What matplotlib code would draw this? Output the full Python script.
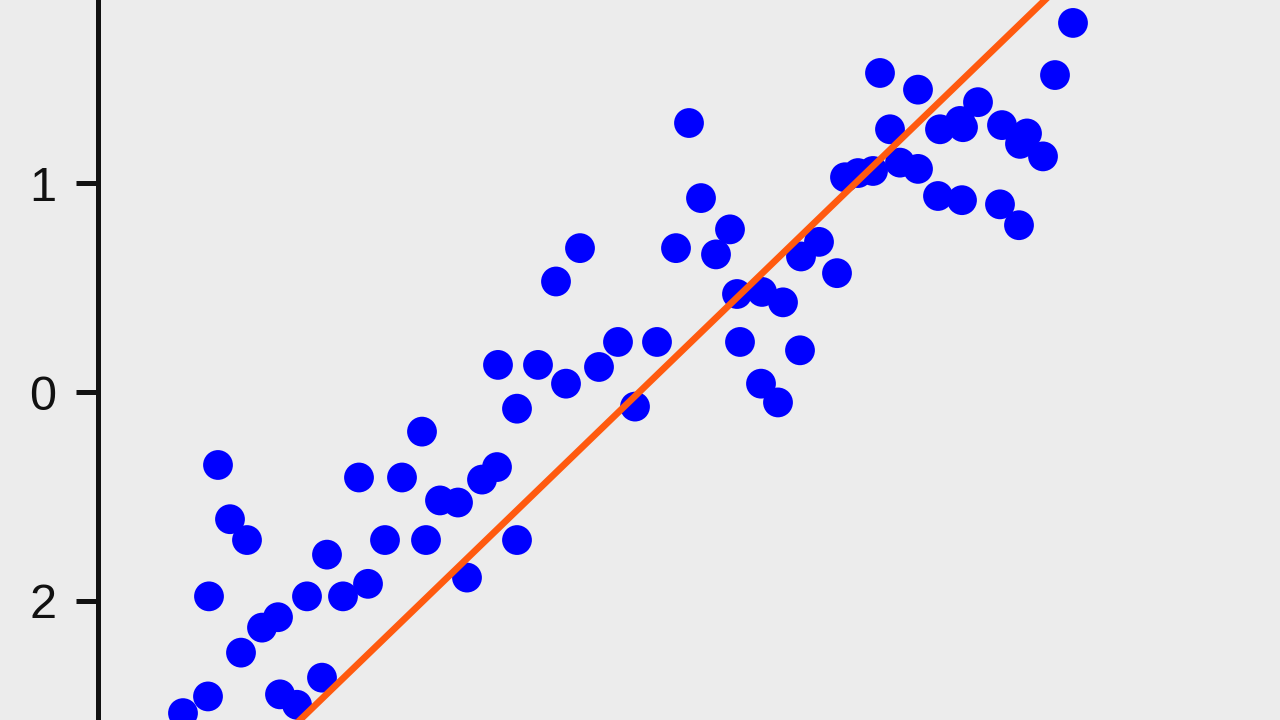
import numpy as np
import matplotlib
matplotlib.use('Agg')
import matplotlib.pyplot as plt

# scatter points (x, y)
x = [0.85, 1.10, 1.20, 1.32, 1.49, 1.11, 1.43, 1.64, 1.80, 1.82, 1.99, 2.09, 2.24, 2.29,
     2.45, 2.61, 2.70, 2.87, 3.04, 3.24, 3.28, 3.42, 3.60, 3.84, 3.99, 4.00, 4.19, 4.19,
     3.69, 4.40, 4.58, 4.68, 4.82, 5.01, 5.20, 5.37, 5.59, 5.78, 5.91, 6.03, 6.18, 6.32,
     6.42, 6.39, 6.64, 6.63, 6.80, 6.85, 7.02, 7.03, 7.21, 7.39, 7.47, 7.60, 7.75, 7.82,
     7.92, 8.02, 8.20, 8.20, 8.40, 8.42, 8.64, 8.62, 8.65, 8.80, 9.04, 9.02, 9.21, 9.22,
     9.29, 9.45, 9.57, 9.75]
y = [-1.54, -1.46, -0.35, -0.61, -0.71, -0.98, -1.25, -1.13, -1.08, -1.45, -1.50, -0.98,
     -1.37, -0.78, -0.98, -0.41, -0.92, -0.71, -0.41, -0.19, -0.71, -0.52, -0.53, -0.42,
     -0.36, 0.13, -0.08, -0.71, -0.89, 0.13, 0.53, 0.04, 0.69, 0.12, 0.24, -0.07, 0.24,
     0.69, 1.29, 0.93, 0.66, 0.78, 0.24, 0.47, 0.48, 0.04, -0.05, 0.43, 0.20, 0.65, 0.72,
     0.57, 1.03, 1.05, 1.06, 1.53, 1.26, 1.10, 1.07, 1.45, 0.94, 1.26, 0.92, 1.30, 1.27,
     1.39, 1.28, 0.90, 0.80, 1.19, 1.24, 1.13, 1.52, 1.77]

# fitted line
slope = 0.4635
intercept = -2.509

ytick_vals = [1, 0, -1]
ytick_labels = ['1', '0', '2']

bg = '#ececec'
fig = plt.figure(figsize=(12.8, 7.2), dpi=100, facecolor=bg)
ax = fig.add_axes([98 / 1280, 0, 1 - 98 / 1280, 1], facecolor=bg)

ax.scatter(x, y, s=460, color='#0000ff', edgecolors='none', zorder=2)
line_x = np.array([0, 11.82])
ax.plot(line_x, slope * line_x + intercept, color='#ff5a0f', linewidth=4.8, zorder=3)

ax.set_xlim(0, 11.82)
ax.set_ylim(-1.573, 1.880)

for side in ['top', 'right', 'bottom']:
    ax.spines[side].set_visible(False)
ax.spines['left'].set_linewidth(3.6)
ax.spines['left'].set_color('#111111')

ax.set_xticks([])
ax.set_yticks(ytick_vals)
ax.set_yticklabels(ytick_labels, fontsize=35, family='Liberation Sans', color='#111111')
ax.tick_params(axis='y', length=16, width=3.6, pad=14, color='#111111')

fig.savefig('out.png', dpi=100, facecolor=bg)
